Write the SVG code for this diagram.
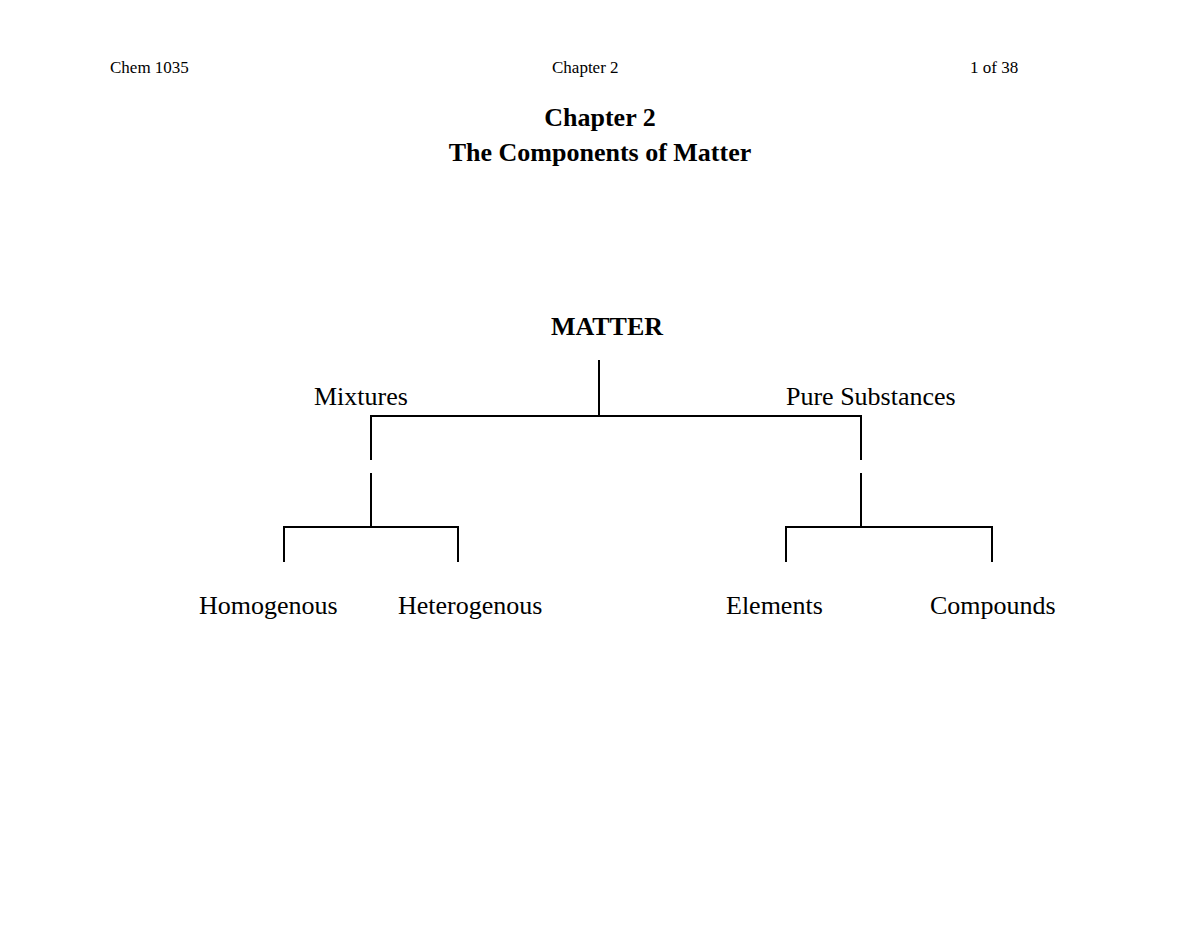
<svg xmlns="http://www.w3.org/2000/svg" width="1200" height="927" viewBox="0 0 1200 927">
<style>
text{font-family:"Liberation Serif",serif;fill:#000}
.h{font-size:17px}
.t{font-size:26px;font-weight:bold;text-anchor:middle}
.l{font-size:26px}
line{stroke:#000;stroke-width:2}
</style>
<rect width="1200" height="927" fill="#fff"/>
<text class="h" x="110" y="73">Chem 1035</text>
<text class="h" x="552" y="73">Chapter 2</text>
<text class="h" x="970" y="73">1 of 38</text>
<text class="t" x="600" y="126">Chapter 2</text>
<text class="t" x="600" y="161">The Components of Matter</text>
<g id="matter"><text class="t" x="607" y="335">MATTER</text></g>
<g id="mixtures"><text class="l" x="314" y="405">Mixtures</text></g>
<g id="pure"><text class="l" x="786" y="405">Pure Substances</text></g>
<g id="homo"><text class="l" x="199" y="614">Homogenous</text></g>
<g id="hetero"><text class="l" x="398" y="614">Heterogenous</text></g>
<g id="elements"><text class="l" x="726" y="614">Elements</text></g>
<g id="compounds"><text class="l" x="930" y="614">Compounds</text></g>
<g id="connectors">
<line x1="599" y1="360" x2="599" y2="416"/>
<line x1="370" y1="416" x2="862" y2="416"/>
<line x1="371" y1="416" x2="371" y2="460"/>
<line x1="861" y1="416" x2="861" y2="460"/>
<line x1="371" y1="473" x2="371" y2="527"/>
<line x1="861" y1="473" x2="861" y2="527"/>
<line x1="283" y1="527" x2="459" y2="527"/>
<line x1="785" y1="527" x2="993" y2="527"/>
<line x1="284" y1="527" x2="284" y2="562"/>
<line x1="458" y1="527" x2="458" y2="562"/>
<line x1="786" y1="527" x2="786" y2="562"/>
<line x1="992" y1="527" x2="992" y2="562"/>
</g>
</svg>
